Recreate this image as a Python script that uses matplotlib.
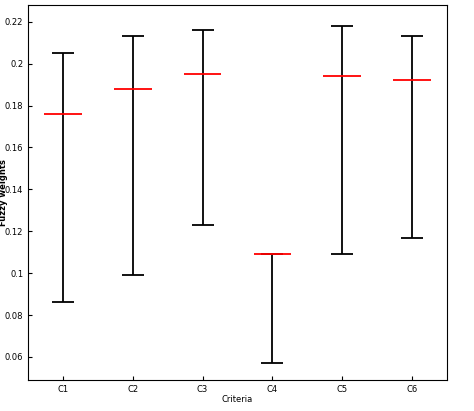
import matplotlib
matplotlib.use("Agg")
import matplotlib.pyplot as plt
import numpy as np

criteria = ["C1", "C2", "C3", "C4", "C5", "C6"]
lower = [0.086, 0.099, 0.123, 0.057, 0.109, 0.117]
middle = [0.176, 0.188, 0.195, 0.109, 0.194, 0.192]
upper = [0.205, 0.213, 0.216, 0.109, 0.218, 0.213]

fig = plt.figure(figsize=(4.74, 4.11), dpi=100)
ax = fig.add_axes([28/474, 31/411, 419/474, 375/411])

x = np.arange(1, len(criteria) + 1)
mid = np.array(middle)
yerr = [mid - np.array(lower), np.array(upper) - mid]
ax.errorbar(x, mid, yerr=yerr, fmt="none", ecolor="black", elinewidth=1.3,
            capsize=8, capthick=1.3)
ax.hlines(mid, x - 0.27, x + 0.27, colors="red", linewidth=1.3, zorder=3)

ax.set_xlim(0.5, 6.5)
ax.set_ylim(0.049, 0.228)
ax.set_xticks(x)
ax.set_xticklabels(criteria)
ax.set_yticks(np.arange(0.06, 0.221, 0.02))
ax.set_yticklabels(["0.06", "0.08", "0.1", "0.12", "0.14", "0.16", "0.18", "0.2", "0.22"])
ax.tick_params(labelsize=6, direction="in", length=3)
ax.set_xlabel("Criteria", fontsize=6, labelpad=1)
ax.set_ylabel("Fuzzy weights", fontsize=6, fontweight="bold")
ax.yaxis.set_label_coords(-0.048, 0.5)

fig.savefig("out.png", dpi=100)
